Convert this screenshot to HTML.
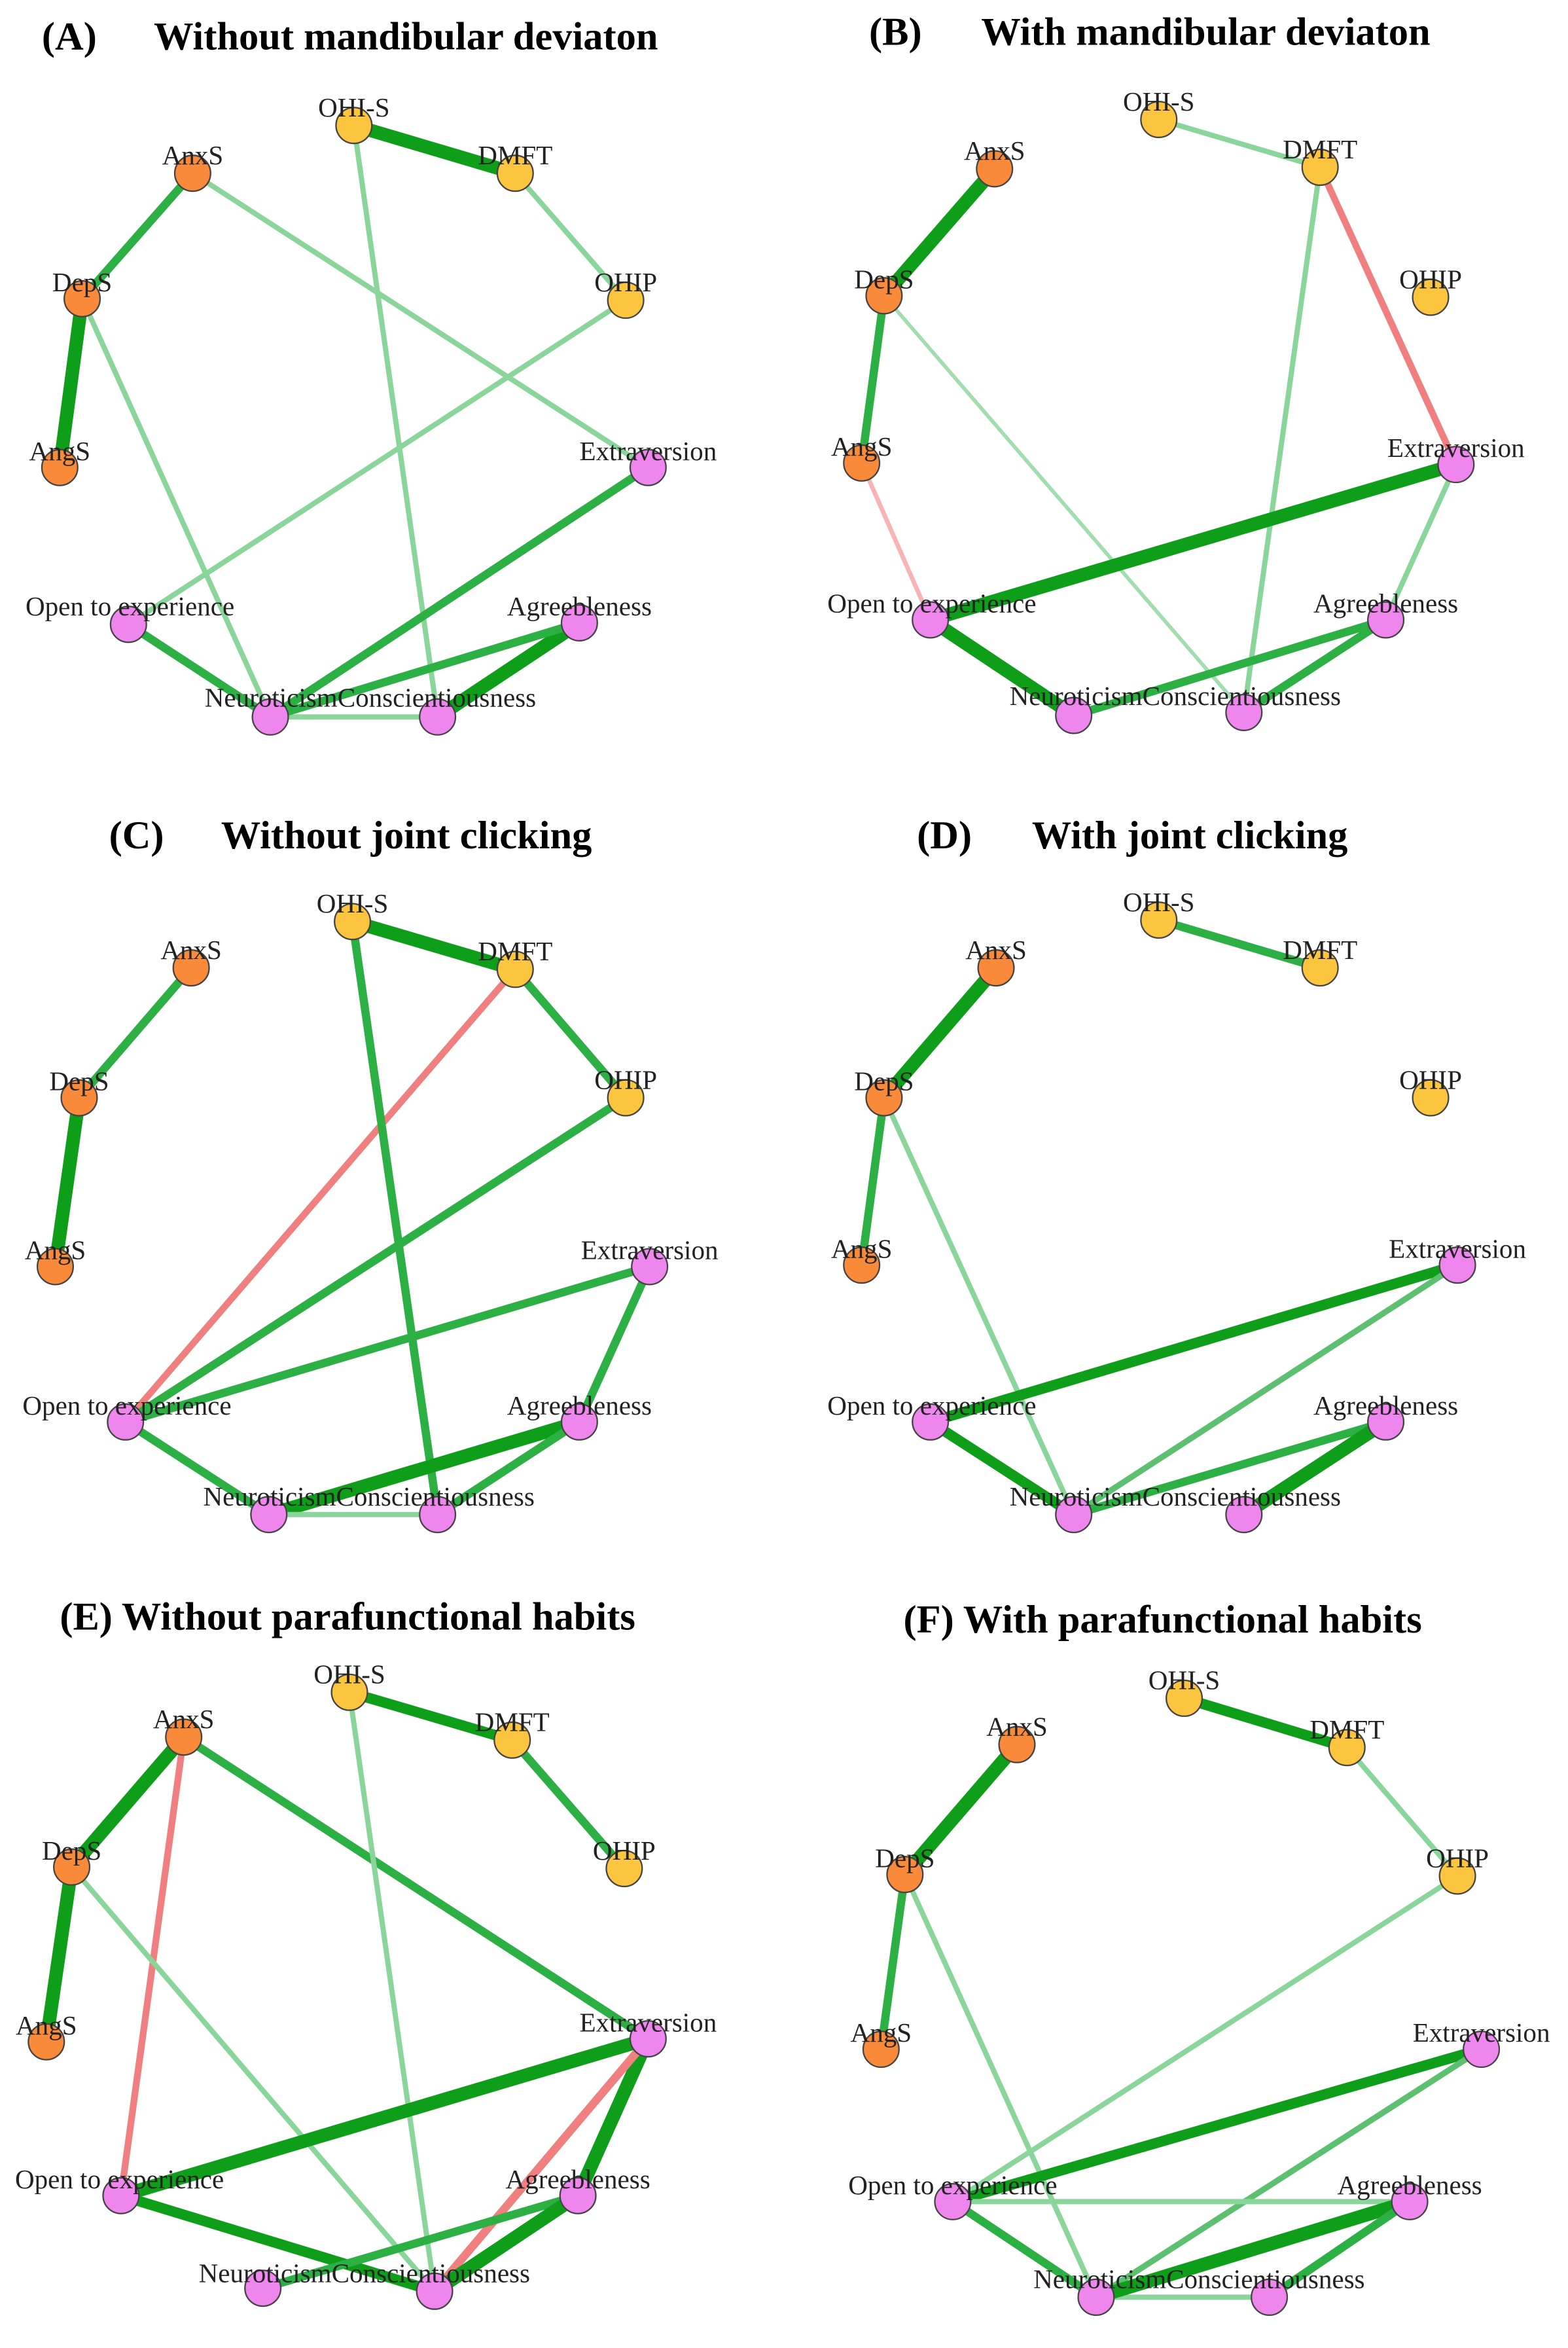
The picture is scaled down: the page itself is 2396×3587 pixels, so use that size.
<!DOCTYPE html>
<html><head><meta charset="utf-8"><style>
html,body{margin:0;padding:0;background:#fff}
svg{display:block}
.t{font-family:"Liberation Serif",serif;font-weight:bold;font-size:26.5px;fill:#000}
.l{font-family:"Liberation Serif",serif;font-size:18px;fill:#222;text-anchor:middle}
.k{stroke:#0f9e1a;stroke-width:9;stroke-linecap:round}
.m{stroke:#2db043;stroke-width:5.5;stroke-linecap:round}
.s{stroke:#8ad59a;stroke-width:3.5;stroke-linecap:round}
.r{stroke:#f08080;stroke-width:4.5;stroke-linecap:round}
.rl{stroke:#f6b4b4;stroke-width:3;stroke-linecap:round}
.o{fill:#f98a3a;stroke:#444;stroke-width:1}
.y{fill:#fbc53f;stroke:#444;stroke-width:1}
.p{fill:#ee86ee;stroke:#444;stroke-width:1}
</style></head><body>
<svg width="2396" height="3587" viewBox="0 0 1050 1572" xmlns="http://www.w3.org/2000/svg">
<rect width="1050" height="1572" fill="#fff"/>
<text class="t" x="28" y="33">(A)</text><text class="t" x="103" y="33">Without mandibular deviaton</text>
<text class="t" x="582" y="30">(B)</text><text class="t" x="657" y="30">With mandibular deviaton</text>
<text class="t" x="73" y="568">(C)</text><text class="t" x="148" y="568">Without joint clicking</text>
<text class="t" x="614" y="568">(D)</text><text class="t" x="691" y="568">With joint clicking</text>
<text class="t" x="40" y="1091">(E) Without parafunctional habits</text>
<text class="t" x="605" y="1093">(F) With parafunctional habits</text>

<g>
<line class="k" x1="237" y1="84" x2="345" y2="116"/>
<line class="s" x1="345" y1="116" x2="419" y2="201"/>
<line class="m" x1="129" y1="116" x2="55" y2="200"/>
<line class="k" x1="55" y1="200" x2="40" y2="313"/>
<line class="s" x1="129" y1="116" x2="434" y2="313"/>
<line class="s" x1="55" y1="200" x2="181" y2="480"/>
<line class="s" x1="419" y1="201" x2="86" y2="418"/>
<line class="s" x1="237" y1="84" x2="293" y2="480"/>
<line class="m" x1="86" y1="418" x2="181" y2="480"/>
<line class="m" x1="181" y1="480" x2="434" y2="313"/>
<line class="s" x1="181" y1="480" x2="293" y2="480"/>
<line class="k" x1="293" y1="480" x2="388" y2="417"/>
<line class="m" x1="181" y1="480" x2="388" y2="417"/>
<circle class="y" cx="237" cy="84" r="12"/><circle class="y" cx="345" cy="116" r="12"/><circle class="y" cx="419" cy="201" r="12"/>
<circle class="p" cx="434" cy="313" r="12"/><circle class="p" cx="388" cy="417" r="12"/><circle class="p" cx="293" cy="480" r="12"/><circle class="p" cx="181" cy="480" r="12"/><circle class="p" cx="86" cy="418" r="12"/>
<circle class="o" cx="40" cy="313" r="12"/><circle class="o" cx="55" cy="200" r="12"/><circle class="o" cx="129" cy="116" r="12"/>
<text class="l" x="237" y="78">OHI-S</text><text class="l" x="345" y="110">DMFT</text><text class="l" x="419" y="195">OHIP</text>
<text class="l" x="434" y="308">Extraversion</text><text class="l" x="388" y="412">Agreebleness</text><text class="l" x="248" y="473">NeuroticismConscientiousness</text>
<text class="l" x="87" y="412">Open to experience</text><text class="l" x="40" y="308">AngS</text><text class="l" x="55" y="195">DepS</text><text class="l" x="129" y="110">AnxS</text>
</g>

<g>
<line class="s" x1="776" y1="80" x2="884" y2="112"/>
<line class="r" x1="884" y1="112" x2="975" y2="311"/>
<line class="s" x1="884" y1="112" x2="833" y2="477"/>
<line class="k" x1="666" y1="113" x2="592" y2="198"/>
<line class="m" x1="592" y1="198" x2="577" y2="310"/>
<line class="rl" x1="577" y1="310" x2="623" y2="415"/>
<line class="s" x1="592" y1="198" x2="833" y2="477" style="stroke-width:2.5;opacity:.8"/>
<line class="k" x1="623" y1="415" x2="975" y2="311"/>
<line class="s" x1="975" y1="311" x2="928" y2="415"/>
<line class="k" x1="623" y1="415" x2="719" y2="479"/>
<line class="m" x1="719" y1="479" x2="928" y2="415"/>
<line class="m" x1="833" y1="477" x2="928" y2="415"/>
<circle class="y" cx="776" cy="80" r="12"/><circle class="y" cx="884" cy="112" r="12"/><circle class="y" cx="958" cy="199" r="12"/>
<circle class="p" cx="975" cy="311" r="12"/><circle class="p" cx="928" cy="415" r="12"/><circle class="p" cx="833" cy="477" r="12"/><circle class="p" cx="719" cy="479" r="12"/><circle class="p" cx="623" cy="415" r="12"/>
<circle class="o" cx="577" cy="310" r="12"/><circle class="o" cx="592" cy="198" r="12"/><circle class="o" cx="666" cy="113" r="12"/>
<text class="l" x="776" y="74">OHI-S</text><text class="l" x="884" y="106">DMFT</text><text class="l" x="958" y="193">OHIP</text>
<text class="l" x="975" y="306">Extraversion</text><text class="l" x="928" y="410">Agreebleness</text><text class="l" x="787" y="472">NeuroticismConscientiousness</text>
<text class="l" x="624" y="410">Open to experience</text><text class="l" x="577" y="305">AngS</text><text class="l" x="592" y="193">DepS</text><text class="l" x="666" y="107">AnxS</text>
</g>

<g>
<line class="k" x1="236" y1="617" x2="345" y2="649"/>
<line class="m" x1="345" y1="649" x2="419" y2="735"/>
<line class="r" x1="345" y1="649" x2="84" y2="952"/>
<line class="m" x1="236" y1="617" x2="293" y2="1014"/>
<line class="m" x1="128" y1="648" x2="53" y2="735"/>
<line class="k" x1="53" y1="735" x2="37" y2="848"/>
<line class="m" x1="419" y1="735" x2="84" y2="952"/>
<line class="m" x1="84" y1="952" x2="435" y2="848"/>
<line class="m" x1="435" y1="848" x2="388" y2="952"/>
<line class="m" x1="84" y1="952" x2="180" y2="1014"/>
<line class="k" x1="180" y1="1014" x2="388" y2="952"/>
<line class="m" x1="293" y1="1014" x2="388" y2="952"/>
<line class="s" x1="180" y1="1014" x2="293" y2="1014"/>
<circle class="y" cx="236" cy="617" r="12"/><circle class="y" cx="345" cy="649" r="12"/><circle class="y" cx="419" cy="735" r="12"/>
<circle class="p" cx="435" cy="848" r="12"/><circle class="p" cx="388" cy="952" r="12"/><circle class="p" cx="293" cy="1014" r="12"/><circle class="p" cx="180" cy="1014" r="12"/><circle class="p" cx="84" cy="952" r="12"/>
<circle class="o" cx="37" cy="848" r="12"/><circle class="o" cx="53" cy="735" r="12"/><circle class="o" cx="128" cy="648" r="12"/>
<text class="l" x="236" y="611">OHI-S</text><text class="l" x="345" y="643">DMFT</text><text class="l" x="419" y="729">OHIP</text>
<text class="l" x="435" y="843">Extraversion</text><text class="l" x="388" y="947">Agreebleness</text><text class="l" x="247" y="1008">NeuroticismConscientiousness</text>
<text class="l" x="85" y="947">Open to experience</text><text class="l" x="37" y="843">AngS</text><text class="l" x="53" y="730">DepS</text><text class="l" x="128" y="642">AnxS</text>
</g>

<g>
<line class="m" x1="776" y1="616" x2="884" y2="648"/>
<line class="k" x1="667" y1="648" x2="592" y2="735"/>
<line class="m" x1="592" y1="735" x2="577" y2="847"/>
<line class="s" x1="592" y1="735" x2="719" y2="1014"/>
<line class="k" x1="623" y1="952" x2="976" y2="847" style="stroke-width:7"/>
<line class="s" x1="719" y1="1014" x2="976" y2="847" style="stroke:#5cc070;stroke-width:4"/>
<line class="k" x1="623" y1="952" x2="719" y2="1014" style="stroke-width:7"/>
<line class="m" x1="719" y1="1014" x2="928" y2="952"/>
<line class="k" x1="833" y1="1014" x2="928" y2="952"/>
<circle class="y" cx="776" cy="616" r="12"/><circle class="y" cx="884" cy="648" r="12"/><circle class="y" cx="958" cy="735" r="12"/>
<circle class="p" cx="976" cy="847" r="12"/><circle class="p" cx="928" cy="952" r="12"/><circle class="p" cx="833" cy="1014" r="12"/><circle class="p" cx="719" cy="1014" r="12"/><circle class="p" cx="623" cy="952" r="12"/>
<circle class="o" cx="577" cy="847" r="12"/><circle class="o" cx="592" cy="735" r="12"/><circle class="o" cx="667" cy="648" r="12"/>
<text class="l" x="776" y="610">OHI-S</text><text class="l" x="884" y="642">DMFT</text><text class="l" x="958" y="729">OHIP</text>
<text class="l" x="976" y="842">Extraversion</text><text class="l" x="928" y="947">Agreebleness</text><text class="l" x="787" y="1008">NeuroticismConscientiousness</text>
<text class="l" x="624" y="947">Open to experience</text><text class="l" x="577" y="842">AngS</text><text class="l" x="592" y="730">DepS</text><text class="l" x="667" y="642">AnxS</text>
</g>

<g>
<line class="k" x1="234" y1="1133" x2="343" y2="1165" style="stroke-width:7"/>
<line class="m" x1="343" y1="1165" x2="418" y2="1251"/>
<line class="k" x1="123" y1="1163" x2="48" y2="1250"/>
<line class="k" x1="48" y1="1250" x2="31" y2="1367"/>
<line class="r" x1="123" y1="1163" x2="81" y2="1470"/>
<line class="m" x1="123" y1="1163" x2="434" y2="1365"/>
<line class="s" x1="48" y1="1250" x2="291" y2="1534"/>
<line class="s" x1="234" y1="1133" x2="291" y2="1534"/>
<line class="k" x1="81" y1="1470" x2="434" y2="1365"/>
<line class="k" x1="434" y1="1365" x2="387" y2="1470"/>
<line class="r" x1="434" y1="1365" x2="291" y2="1534" style="stroke-width:5.5"/>
<line class="k" x1="81" y1="1470" x2="291" y2="1534" style="stroke-width:7"/>
<line class="m" x1="176" y1="1532" x2="387" y2="1470"/>
<line class="k" x1="291" y1="1534" x2="387" y2="1470"/>
<circle class="y" cx="234" cy="1133" r="12"/><circle class="y" cx="343" cy="1165" r="12"/><circle class="y" cx="418" cy="1251" r="12"/>
<circle class="p" cx="434" cy="1365" r="12"/><circle class="p" cx="387" cy="1470" r="12"/><circle class="p" cx="291" cy="1534" r="12"/><circle class="p" cx="176" cy="1532" r="12"/><circle class="p" cx="81" cy="1470" r="12"/>
<circle class="o" cx="31" cy="1367" r="12"/><circle class="o" cx="48" cy="1250" r="12"/><circle class="o" cx="123" cy="1163" r="12"/>
<text class="l" x="234" y="1127">OHI-S</text><text class="l" x="343" y="1159">DMFT</text><text class="l" x="418" y="1245">OHIP</text>
<text class="l" x="434" y="1360">Extraversion</text><text class="l" x="387" y="1465">Agreebleness</text><text class="l" x="244" y="1528">NeuroticismConscientiousness</text>
<text class="l" x="80" y="1465">Open to experience</text><text class="l" x="31" y="1362">AngS</text><text class="l" x="48" y="1245">DepS</text><text class="l" x="123" y="1157">AnxS</text>
</g>

<g>
<line class="k" x1="793" y1="1137" x2="902" y2="1170" style="stroke-width:7"/>
<line class="s" x1="902" y1="1170" x2="976" y2="1256"/>
<line class="k" x1="681" y1="1168" x2="606" y2="1255"/>
<line class="m" x1="606" y1="1255" x2="590" y2="1372"/>
<line class="s" x1="606" y1="1255" x2="734" y2="1538"/>
<line class="s" x1="976" y1="1256" x2="638" y2="1474"/>
<line class="k" x1="638" y1="1474" x2="992" y2="1372" style="stroke-width:7"/>
<line class="s" x1="734" y1="1538" x2="992" y2="1372" style="stroke:#5cc070;stroke-width:4"/>
<line class="s" x1="638" y1="1474" x2="944" y2="1474"/>
<line class="m" x1="638" y1="1474" x2="734" y2="1538"/>
<line class="s" x1="734" y1="1538" x2="850" y2="1538"/>
<line class="k" x1="734" y1="1538" x2="944" y2="1474"/>
<line class="m" x1="850" y1="1538" x2="944" y2="1474"/>
<circle class="y" cx="793" cy="1137" r="12"/><circle class="y" cx="902" cy="1170" r="12"/><circle class="y" cx="976" cy="1256" r="12"/>
<circle class="p" cx="992" cy="1372" r="12"/><circle class="p" cx="944" cy="1474" r="12"/><circle class="p" cx="850" cy="1538" r="12"/><circle class="p" cx="734" cy="1538" r="12"/><circle class="p" cx="638" cy="1474" r="12"/>
<circle class="o" cx="590" cy="1372" r="12"/><circle class="o" cx="606" cy="1255" r="12"/><circle class="o" cx="681" cy="1168" r="12"/>
<text class="l" x="793" y="1131">OHI-S</text><text class="l" x="902" y="1164">DMFT</text><text class="l" x="976" y="1250">OHIP</text>
<text class="l" x="992" y="1367">Extraversion</text><text class="l" x="944" y="1469">Agreebleness</text><text class="l" x="803" y="1532">NeuroticismConscientiousness</text>
<text class="l" x="638" y="1469">Open to experience</text><text class="l" x="590" y="1367">AngS</text><text class="l" x="606" y="1250">DepS</text><text class="l" x="681" y="1162">AnxS</text>
</g>
</svg>
</body></html>
